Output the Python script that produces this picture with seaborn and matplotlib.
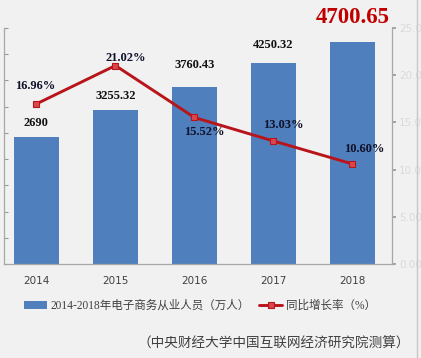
import matplotlib
matplotlib.use("Agg")
import matplotlib.pyplot as plt
import seaborn as sns
import numpy as np
from matplotlib.lines import Line2D

# ---- data ----
years = ["2014", "2015", "2016", "2017", "2018"]
employees = [2690, 3255.32, 3760.43, 4250.32, 4700.65]
emp_labels = ["2690", "3255.32", "3760.43", "4250.32", "4700.65"]
growth = [16.96, 21.02, 15.52, 13.03, 10.60]
growth_labels = ["16.96%", "21.02%", "15.52%", "13.03%", "10.60%"]
bar_name = "2014-2018年电子商务从业人员（万人）"
line_name = "同比增长率（%）"
source_note = "（中央财经大学中国互联网经济研究院测算）"

sns.set_theme(style="white")
plt.rcParams["font.family"] = ["Liberation Serif", "Noto Sans CJK SC", "DejaVu Sans"]

BLUE = "#4f7fbc"
RED = "#b8141a"
DPI = 100
px = 72 / DPI

fig = plt.figure(figsize=(4.21, 3.58), dpi=DPI, facecolor="#f1f1f1")
ax = fig.add_axes([4 / 421, 1 - 264 / 358, (392 - 4) / 421, (264 - 28) / 358])
ax.set_facecolor("none")

sns.barplot(x=years, y=employees, ax=ax, color=BLUE, width=0.57,
            saturation=1, label=bar_name, linewidth=0, edgecolor=BLUE, zorder=2)
ax.set_ylim(0, 5000)
ax.set_yticks(np.linspace(0, 5000, 10))
ax.tick_params(axis="y", labelleft=False, direction="in", length=3,
               color="#9a9a9a", width=0.8, left=True)
ax.tick_params(axis="x", bottom=False, labelsize=7.5, labelcolor="#404040", pad=3)
for lab in ax.get_xticklabels():
    lab.set_fontfamily(["DejaVu Sans"])
ax.set_xlabel("")
ax.set_ylabel("")
for s in ["top", "right"]:
    ax.spines[s].set_visible(False)
for s in ["left", "bottom"]:
    ax.spines[s].set_color("#a8a8a8")
    ax.spines[s].set_linewidth(0.9)

ax2 = ax.twinx()
sns.pointplot(x=years, y=growth, ax=ax2, color=RED, markers="s",
              linestyles="-", label=line_name, markersize=5,
              markerfacecolor="#d9474d", markeredgecolor=RED,
              markeredgewidth=0.8, linewidth=2.1, zorder=3)
ax2.set_ylim(0, 25)
ax2.set_yticks([0, 5, 10, 15, 20, 25])
ax2.set_yticklabels([f"{v:.2f}" for v in [0, 5, 10, 15, 20, 25]])
ax2.tick_params(axis="y", right=True, direction="out", length=3, color="#9a9a9a",
                labelsize=7.5, labelcolor="#dadada", pad=2)
for lab in ax2.get_yticklabels():
    lab.set_fontfamily(["DejaVu Sans"])
ax2.set_ylabel("")
for s in ["top", "left", "bottom"]:
    ax2.spines[s].set_visible(False)
ax2.spines["right"].set_color("#a8a8a8")
ax2.spines["right"].set_linewidth(0.9)

ax.set_xlim(-0.41, 4.5)
ax2.set_xlim(-0.41, 4.5)

# bar value labels
bar_dy = [14, 14, 22, 18, 25]
for i, (v, t) in enumerate(zip(employees, emp_labels)):
    if i == len(employees) - 1:
        ax.annotate(t, (i, v), xytext=(0, bar_dy[i] * px), textcoords="offset points",
                    ha="center", va="center", fontsize=16.5, fontweight="bold",
                    color="#c00000", zorder=5)
    else:
        ax.annotate(t, (i, v), xytext=(0, bar_dy[i] * px), textcoords="offset points",
                    ha="center", va="center", fontsize=9, fontweight="bold",
                    color="#111111", zorder=5)

# growth labels
pct_off = [(-1, 18), (10, 8), (10, -15), (9.5, 16), (12, 15)]
for i, (v, t) in enumerate(zip(growth, growth_labels)):
    dx, dy = pct_off[i]
    ax2.annotate(t, (i, v), xytext=(dx * px, dy * px), textcoords="offset points",
                 ha="center", va="center", fontsize=9, fontweight="bold",
                 color="#10112a", zorder=6)

# legend
h1, l1 = ax.get_legend_handles_labels()
h2, l2 = ax2.get_legend_handles_labels()
if ax.get_legend():
    ax.get_legend().remove()
if ax2.get_legend():
    ax2.get_legend().remove()
fig.legend(h1 + h2, l1 + l2, loc="center", bbox_to_anchor=(0.475, 1 - 306 / 358),
           ncol=2, frameon=False, fontsize=8.3, handlelength=2.0, handleheight=0.7,
           handletextpad=0.3, columnspacing=0.8, labelcolor="#404040")

fig.text(410 / 421, 1 - 344 / 358, source_note, ha="right", va="center",
         fontsize=9.8, color="#404040")

fig.add_artist(Line2D([417 / 421, 417 / 421], [0, 1], transform=fig.transFigure,
                      color="#c8c8c8", lw=1.0))

fig.savefig("out.png", dpi=DPI, facecolor=fig.get_facecolor())
